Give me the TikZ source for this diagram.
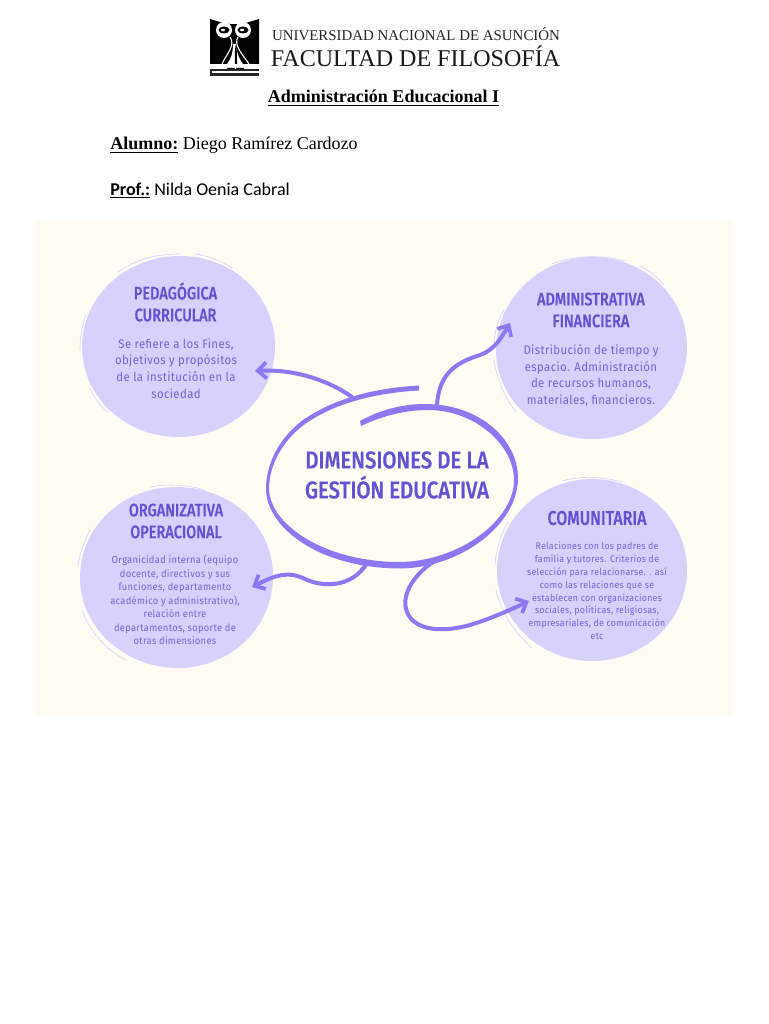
\documentclass[tikz,border=0pt]{standalone}
\usepackage{fontspec}
\usetikzlibrary{arrows.meta}
\setmainfont{Liberation Serif}
\newfontfamily\carl{Carlito}
\newfontfamily\hdfont[FakeStretch=0.80,FakeBold=0.3]{Fira Sans Medium}
\newfontfamily\hubfont[FakeStretch=0.84,FakeBold=0.5]{Fira Sans Medium}
\newfontfamily\bdfont[FakeStretch=0.92,LetterSpace=3]{Fira Sans}
\definecolor{bgc}{HTML}{FFFCF4}
\definecolor{blobc}{HTML}{D9D1FD}
\definecolor{linec}{HTML}{8D78F2}
\definecolor{headc}{HTML}{6352D2}
\definecolor{bodyc}{HTML}{7462D6}
\tikzset{
  x=0.75pt,y=-0.75pt,
  blobfill/.style={fill=blobc,draw=none},
  streak/.style={draw=blobc,line width=0.5pt,line cap=round},
  headtxt/.style={text=headc,align=center,inner sep=0pt,font=\hdfont\fontsize{13.6}{16.4}\selectfont},
  bodytxt/.style={text=bodyc,align=center,inner sep=0pt,font=\bdfont\fontsize{9.3}{12.6}\selectfont},
  smalltxt/.style={text=bodyc,align=center,inner sep=0pt,font=\bdfont\fontsize{7.6}{10.1}\selectfont},
  conn/.style={draw=linec,line width=3pt,line cap=round,-{Straight Barb[length=6.5pt,width=12pt,line width=2.8pt]}},
  doc/.style={inner sep=0pt,anchor=west,font=\fontsize{13.5}{15}\selectfont},
}
\begin{document}
\begin{tikzpicture}
\useasboundingbox (0,0) rectangle (768,1024);
\fill[white] (0,0) rectangle (768,1024);
% logo owl
\fill[black] (210,19) -- (220,22) .. controls (230,25) and (240,25) .. (249,22) -- (259,19) -- (259,64) -- (210,64) -- cycle;
\fill[white] (224,30) circle (8);
\fill[white] (243,30) circle (8);
\fill[black] (224,30) ellipse (5.5 and 3.5);
\fill[black] (243,30) ellipse (5.5 and 3.5);
\fill[white] (223,30) ellipse (2 and 1.3);
\fill[white] (242,30) ellipse (2 and 1.3);
\draw[white,line width=0.8pt] (230,37) .. controls (236,45) and (226,55) .. (222,64);
\draw[white,line width=0.8pt] (238,37) .. controls (233,45) and (243,55) .. (249,64);
\fill[white] (233,44) -- (236,44) .. controls (237,55) and (240,60) .. (243,64) -- (227,64) .. controls (230,60) and (233,55) .. (233,44) -- cycle;
\fill[black] (236,44) .. controls (234,52) and (235,58) .. (235,64) -- (237,64) .. controls (237,56) and (237,50) .. (236,44) -- cycle;
\fill[black] (227,68) arc (180:0:4 and 3);
\fill[black] (236,68) arc (180:0:4 and 3);
\fill[black!85] (210,69) rectangle (259,76);
\fill[white] (212,71) rectangle (259,73);
\node[inner sep=0pt,anchor=center,text=black!85] (logoa) at (416,34) {\resizebox{216pt}{!}{UNIVERSIDAD NACIONAL DE ASUNCIÓN}};
\node[inner sep=0pt,anchor=center,text=black!90] (logob) at (415.5,56) {\resizebox{217pt}{!}{FACULTAD DE FILOSOFÍA}};
% header
\node[inner sep=0pt,font=\bfseries\fontsize{13.5}{15}\selectfont] (title) at (383.5,98) {\underline{Administración Educacional I}};
\node[doc] (alumno) at (110,145.5) {\underline{\textbf{Alumno:}} Diego Ramírez Cardozo};
\node[doc,font=\carl\fontsize{13.5}{15}\selectfont] (prof) at (110,190.5) {\underline{\textbf{Prof.:}} Nilda Oenia Cabral};
% panel
\fill[bgc] (36,221) rectangle (732,715);
% blobs
\fill[blobfill] (178,256) .. controls (232,255) and (275,295) .. (275,346) .. controls (275,397) and (232,437) .. (178,437) .. controls (125,437) and (82,397) .. (82,346) .. controls (82,300) and (122,257) .. (178,256) -- cycle;
\draw[streak] (118,272) .. controls (135,260) and (155,254) .. (180,254);
\draw[streak] (195,254) .. controls (208,256) and (222,261) .. (232,268);
\draw[streak] (86,315) .. controls (82,325) and (80,337) .. (80,350);
\draw[streak] (90,388) .. controls (94,398) and (100,406) .. (108,412);
\fill[blobfill] (592,257) .. controls (645,257) and (687,297) .. (687,347) .. controls (687,398) and (645,439) .. (592,439) .. controls (540,439) and (496,400) .. (496,350) .. controls (496,300) and (540,257) .. (592,257) -- cycle;
\draw[streak] (552,264) .. controls (570,256) and (600,254) .. (625,261);
\draw[streak] (640,266) .. controls (650,271) and (658,278) .. (664,285);
\draw[streak] (504,310) .. controls (498,320) and (495,330) .. (494,342);
\draw[streak] (494,360) .. controls (497,380) and (505,398) .. (516,412);
\fill[blobfill] (176,487) .. controls (230,487) and (273,525) .. (273,576) .. controls (273,628) and (230,668) .. (178,668) .. controls (125,668) and (80,628) .. (80,578) .. controls (80,527) and (122,487) .. (176,487) -- cycle;
\draw[streak] (90,530) .. controls (85,540) and (80,552) .. (78,565);
\draw[streak] (82,610) .. controls (90,632) and (106,650) .. (126,660);
\draw[streak] (150,487) .. controls (165,484) and (185,484) .. (205,490);
\fill[blobfill] (592,479) .. controls (645,479) and (687,520) .. (687,570) .. controls (687,620) and (645,661) .. (592,661) .. controls (540,661) and (497,620) .. (497,570) .. controls (497,520) and (540,479) .. (592,479) -- cycle;
\draw[streak] (562,481) .. controls (580,476) and (600,476) .. (622,482);
\draw[streak] (508,522) .. controls (500,535) and (496,550) .. (495,565);
\draw[streak] (496,590) .. controls (501,612) and (514,632) .. (532,648);
% central ring
\fill[linec] (419,385.5) .. controls (375,388) and (335,398) .. (303,420) .. controls (280,437) and (266,463) .. (266,489) .. controls (266,525) and (315,568) .. (400,568.5) .. controls (460,568) and (518,525) .. (518,478) .. controls (518,440) and (480,404) .. (425,404) .. controls (400,404) and (378,411) .. (360,421) -- (361,426) .. controls (380,417) and (403,410) .. (428,410) .. controls (475,410) and (514,445) .. (514,480) .. controls (514,520) and (460,561) .. (400,562) .. controls (325,562) and (270,525) .. (269,489) .. controls (269,465) and (283,440) .. (305,424) .. controls (335,403) and (375,393) .. (419,390.5) -- cycle;
% connector anchors
\coordinate (hubtl) at (352,397);
\coordinate (hubtr) at (437,405);
\coordinate (hubbl) at (367,563);
\coordinate (hubbr) at (438,559);
\coordinate (ped) at (255,371);
\coordinate (adm) at (510,323);
\coordinate (org) at (252,587);
\coordinate (com) at (529,601);
\draw[conn] (hubtl) .. controls (325,378) and (290,369) .. (ped);
\draw[conn] (hubtr) .. controls (439,372) and (458,362) .. (480,355) .. controls (495,350) and (503,335) .. (adm);
\draw[conn] (hubbl) .. controls (352,588) and (322,588) .. (303,578) .. controls (285,570) and (270,578) .. (org);
\draw[conn] (hubbr) .. controls (415,572) and (400,595) .. (407,612) .. controls (415,632) and (445,632) .. (470,625) .. controls (490,619) and (510,610) .. (com);
% hub text
\node[text=headc,inner sep=0pt,align=center,font=\hubfont\fontsize{18.2}{22.5}\selectfont] (hub) at (397,475) {DIMENSIONES DE LA\\GESTIÓN EDUCATIVA};
% labels
\node[headtxt] (t1) at (175.5,302) {PEDAGÓGICA\\CURRICULAR};
\node[bodytxt] (b1) at (176,368.5) {Se refiere a los Fines,\\objetivos y propósitos\\de la institución en la\\sociedad};
\node[headtxt] (t2) at (591,310) {ADMINISTRATIVA\\FINANCIERA};
\node[bodytxt] (b2) at (591,375.5) {Distribución de tiempo y\\espacio. Administración\\de recursos humanos,\\materiales, financieros.};
\node[headtxt] (t3) at (176,521) {ORGANIZATIVA\\OPERACIONAL};
\node[smalltxt] (b3) at (175,600) {Organicidad interna (equipo\\docente, directivos y sus\\funciones, departamento\\académico y administrativo),\\relación entre\\departamentos, soporte de\\otras dimensiones};
\node[headtxt,font=\hdfont\fontsize{15}{16.4}\selectfont] (t4) at (597,518) {COMUNITARIA};
\node[smalltxt,font=\bdfont\fontsize{7.2}{9.6}\selectfont] (b4) at (597,591) {Relaciones con los padres de\\familia y tutores. Criterios de\\selección para relacionarse. . así\\como las relaciones que se\\establecen con organizaciones\\sociales, políticas, religiosas,\\empresariales, de comunicación\\etc};
\end{tikzpicture}
\end{document}
